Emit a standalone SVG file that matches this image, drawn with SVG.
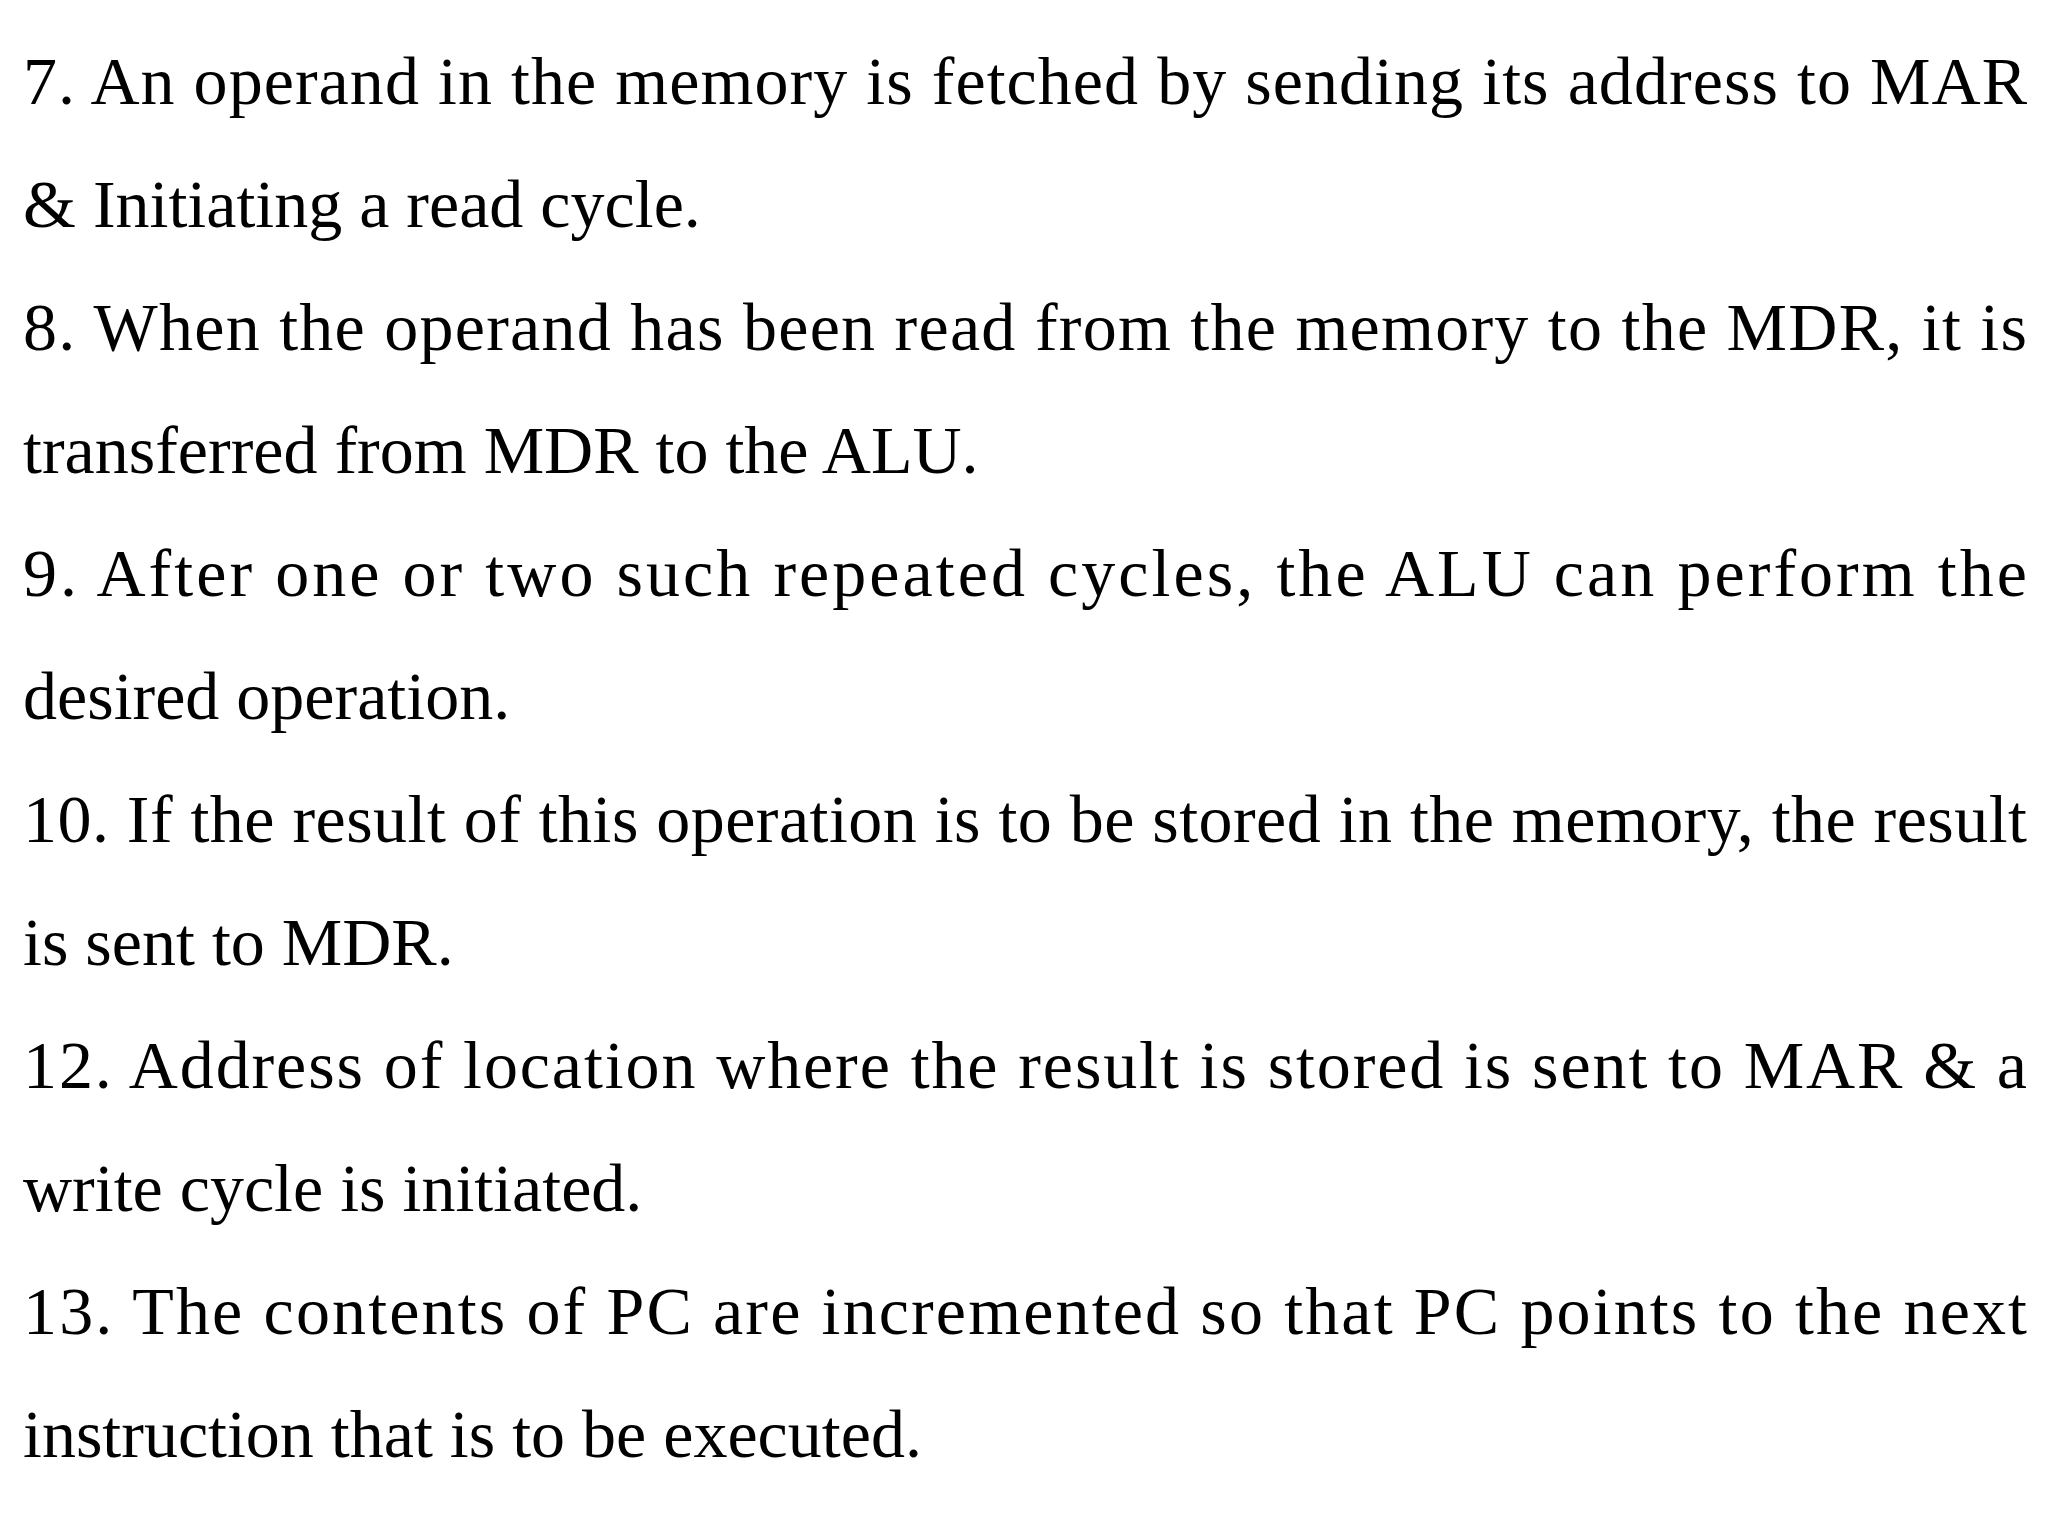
<svg xmlns="http://www.w3.org/2000/svg" width="2048" height="1536" viewBox="0 0 2048 1536">
<style>text{font-family:"Liberation Serif","Times New Roman",serif;font-size:68px;fill:#000}</style>
<rect width="2048" height="1536" fill="#fff"/>
<g id="text">
<text x="23" y="104" textLength="2004" lengthAdjust="spacing">7. An operand in the memory is fetched by sending its address to MAR</text>
<text x="23" y="227">&amp; Initiating a read cycle.</text>
<text x="23" y="350" textLength="2004" lengthAdjust="spacing">8. When the operand has been read from the memory to the MDR, it is</text>
<text x="23" y="473">transferred from MDR to the ALU.</text>
<text x="23" y="596" textLength="2004" lengthAdjust="spacing">9. After one or two such repeated cycles, the ALU can perform the</text>
<text x="23" y="719">desired operation.</text>
<text x="23" y="842" textLength="2004" lengthAdjust="spacing">10. If the result of this operation is to be stored in the memory, the result</text>
<text x="23" y="965">is sent to MDR.</text>
<text x="23" y="1088" textLength="2004" lengthAdjust="spacing">12. Address of location where the result is stored is sent to MAR &amp; a</text>
<text x="23" y="1211">write cycle is initiated.</text>
<text x="23" y="1334" textLength="2004" lengthAdjust="spacing">13. The contents of PC are incremented so that PC points to the next</text>
<text x="23" y="1457">instruction that is to be executed.</text>
</g>
</svg>
